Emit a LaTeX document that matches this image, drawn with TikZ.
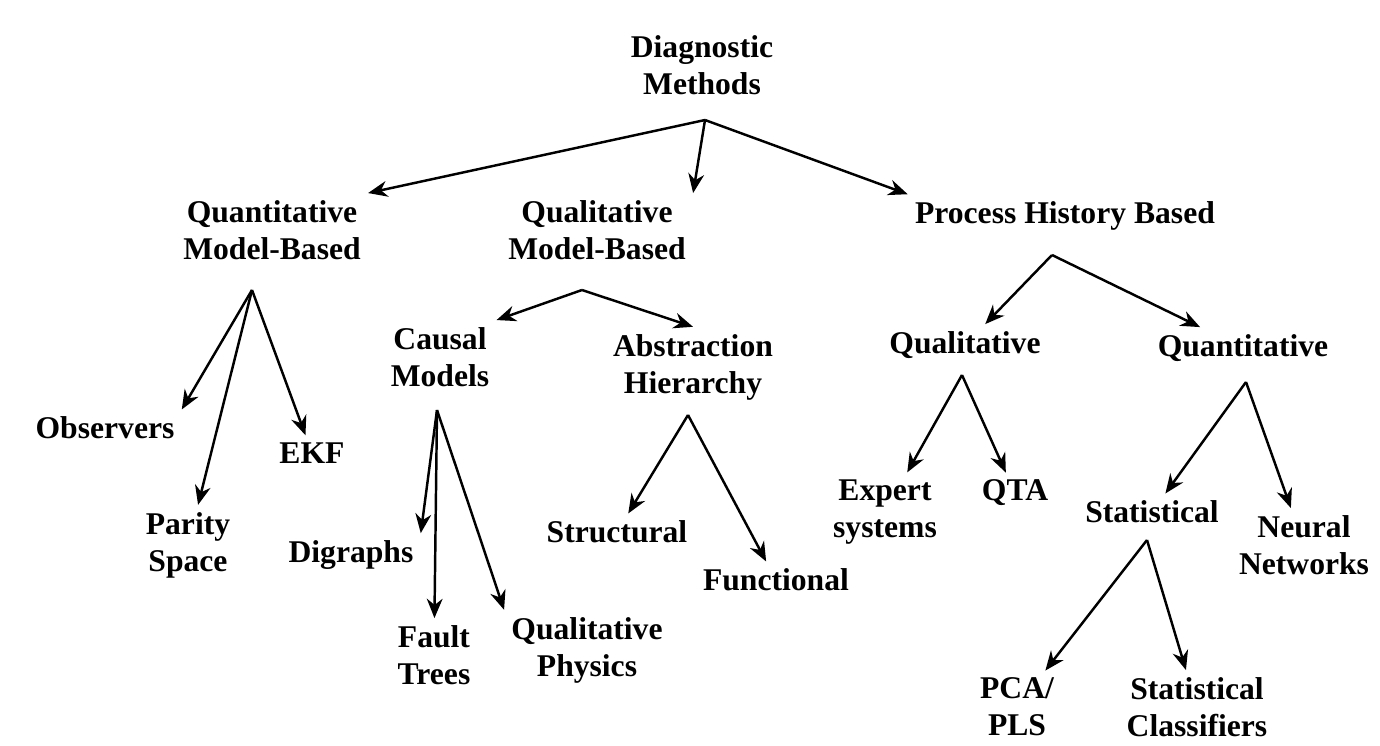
\documentclass[tikz,border=0pt]{standalone}
\usepackage{fontspec}
\setmainfont{Liberation Serif}
\usetikzlibrary{arrows.meta}
\tikzstyle{item} = [align=center, font=\fontsize{18}{21}\selectfont\bfseries, inner sep=4pt]
\tikzstyle{arrow} = [line width=1.4pt,-{Stealth[length=11pt,width=9pt]}]

\begin{document}
\begin{tikzpicture}[x=0.02cm,y=-0.02cm]
\useasboundingbox (0,0) rectangle (1380,745);

\node (dm) [item] at (702,65) {Diagnostic\\Methods};
\node (qnmb) [item] at (272,230) {Quantitative\\Model-Based};
\node (qlmb) [item] at (597,230) {Qualitative\\Model-Based};
\node (phb) [item] at (1065,216) {Process History Based};
\node (obs) [item] at (105,428) {Observers};
\node (par) [item] at (188,545) {Parity\\Space};
\node (ekf) [item] at (312,453) {EKF};
\node (cau) [item] at (440,357) {Causal\\Models};
\node (abs) [item] at (693,367) {Abstraction\\Hierarchy};
\node (dig) [item] at (351,555) {Digraphs};
\node (ft) [item] at (434,655) {Fault\\Trees};
\node (qp) [item] at (587,650) {Qualitative\\Physics};
\node (str) [item] at (617,532) {Structural};
\node (fun) [item] at (776,580) {Functional};
\node (ql) [item] at (965,345) {Qualitative};
\node (qn) [item] at (1243,348) {Quantitative};
\node (exp) [item] at (885,512) {Expert\\systems};
\node (qta) [item] at (1015,493) {QTA};
\node (sta) [item] at (1152,512) {Statistical};
\node (nn) [item] at (1304,545) {Neural\\Networks};
\node (pca) [item] at (1017,707) {PCA/\\PLS};
\node (sc) [item] at (1197,707) {Statistical\\Classifiers};

\coordinate (o1) at (705,120);
\coordinate (o2) at (252,290);
\coordinate (o3) at (582,290);
\coordinate (o4) at (437,410);
\coordinate (o5) at (688,415);
\coordinate (o6) at (1052,255);
\coordinate (o7) at (962,375);
\coordinate (o8) at (1246,382);
\coordinate (o9) at (1147,540);

\draw [arrow] (o1) -- (qnmb.north east);
\draw [arrow] (o1) -- (qlmb.north east);
\draw [arrow] (o1) -- (phb.north west);
\draw [arrow] (o2) -- (obs.north east);
\draw [arrow] (o2) -- (par);
\draw [arrow] (o2) -- (ekf);
\draw [arrow] (o3) -- (cau.north east);
\draw [arrow] (o3) -- (abs.north);
\draw [arrow] (o4) -- (dig.north east);
\draw [arrow] (o4) -- (ft);
\draw [arrow] (o4) -- (qp.north west);
\draw [arrow] (o5) -- (str);
\draw [arrow] (o5) -- (fun);
\draw [arrow] (o6) -- (ql);
\draw [arrow] (o6) -- (qn);
\draw [arrow] (o7) -- (exp);
\draw [arrow] (o7) -- (qta);
\draw [arrow] (o8) -- (sta);
\draw [arrow] (o8) -- (nn);
\draw [arrow] (o9) -- (pca);
\draw [arrow] (o9) -- (sc);

\end{tikzpicture}
\end{document}
